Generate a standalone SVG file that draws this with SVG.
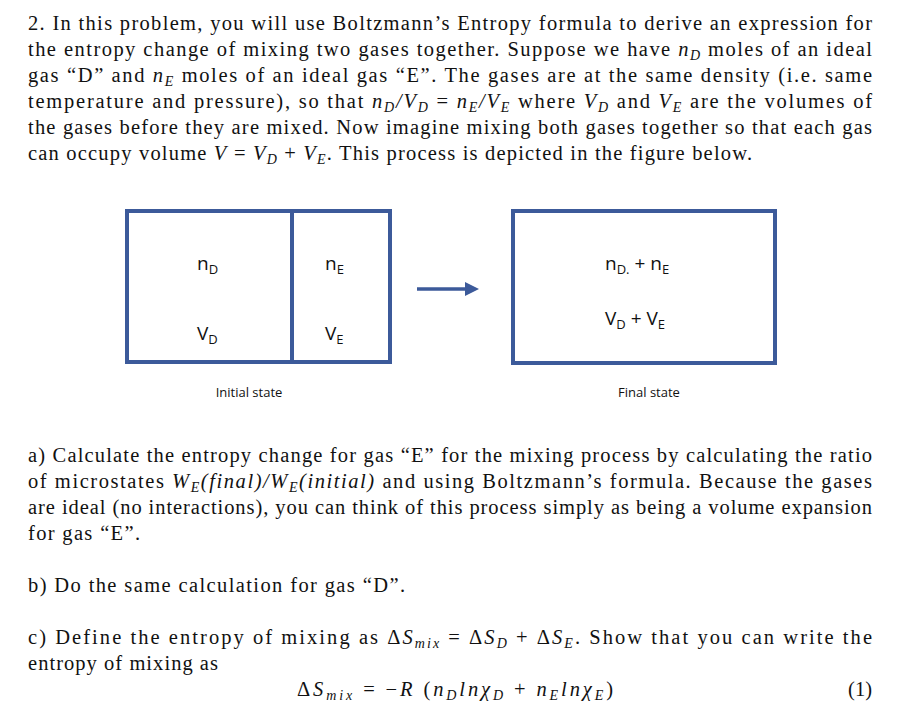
<svg xmlns="http://www.w3.org/2000/svg" width="912" height="722" viewBox="0 0 912 722">
<style>
.t{font-family:"Liberation Serif",serif;font-size:20.5px;fill:#111}
.i{font-style:italic}
.s{font-family:"Open Sans","Liberation Sans",sans-serif;fill:#111}
.box{fill:none;stroke:#3c5a9a;stroke-width:4}
</style>
<defs><marker id="ah" markerWidth="4" markerHeight="4" refX="2" refY="2" orient="auto"><path d="M0,0L4,2L0,4z" fill="#3c5a9a"/></marker></defs>
<rect width="912" height="722" fill="#fff"/>
<text class="t" x="28" y="30" textLength="844" lengthAdjust="spacing">2. In this problem, you will use Boltzmann’s Entropy formula to derive an expression for</text>
<text class="t" x="28" y="56" textLength="844" lengthAdjust="spacing">the entropy change of mixing two gases together. Suppose we have <tspan class="i">n<tspan font-size="14" dy="4">D</tspan></tspan><tspan dy="-4"> moles of an ideal</tspan></text>
<text class="t" x="28" y="82" textLength="844" lengthAdjust="spacing">gas “D” and <tspan class="i">n<tspan font-size="14" dy="4">E</tspan></tspan><tspan dy="-4"> moles of an ideal gas “E”. The gases are at the same density (i.e. same</tspan></text>
<text class="t" x="28" y="108" textLength="844" lengthAdjust="spacing">temperature and pressure), so that <tspan class="i">n<tspan font-size="14" dy="4">D</tspan><tspan dy="-4">/V</tspan><tspan font-size="14" dy="4">D</tspan></tspan><tspan dy="-4"> = </tspan><tspan class="i">n<tspan font-size="14" dy="4">E</tspan><tspan dy="-4">/V</tspan><tspan font-size="14" dy="4">E</tspan></tspan><tspan dy="-4"> where </tspan><tspan class="i">V<tspan font-size="14" dy="4">D</tspan></tspan><tspan dy="-4"> and </tspan><tspan class="i">V<tspan font-size="14" dy="4">E</tspan></tspan><tspan dy="-4"> are the volumes of</tspan></text>
<text class="t" x="28" y="134" textLength="844" lengthAdjust="spacing">the gases before they are mixed. Now imagine mixing both gases together so that each gas</text>
<text class="t" x="28" y="160" textLength="724" lengthAdjust="spacing">can occupy volume <tspan class="i">V</tspan> = <tspan class="i">V<tspan font-size="14" dy="4">D</tspan></tspan><tspan dy="-4"> + </tspan><tspan class="i">V<tspan font-size="14" dy="4">E</tspan></tspan><tspan dy="-4">. This process is depicted in the figure below.</tspan></text>

<g id="initial">
<rect class="box" x="127" y="211" width="263" height="151"/>
<line class="box" x1="292" y1="211" x2="292" y2="362"/>
<text class="s" font-size="19" x="197" y="270">n<tspan font-size="13" dy="4">D</tspan></text>
<text class="s" font-size="19" x="197" y="340">V<tspan font-size="13" dy="4">D</tspan></text>
<text class="s" font-size="19" x="325" y="270">n<tspan font-size="13" dy="4">E</tspan></text>
<text class="s" font-size="19" x="325" y="340">V<tspan font-size="13" dy="4">E</tspan></text>
<text class="s" font-size="13" x="249" y="397" text-anchor="middle">Initial state</text>
</g>
<g id="final">
<rect class="box" x="513" y="211" width="262" height="152"/>
<text class="s" font-size="19" x="605" y="270">n<tspan font-size="13" dy="4">D.</tspan><tspan dy="-4"> + n</tspan><tspan font-size="13" dy="4">E</tspan></text>
<text class="s" font-size="19" x="605" y="325">V<tspan font-size="13" dy="4">D</tspan><tspan dy="-4"> + V</tspan><tspan font-size="13" dy="4">E</tspan></text>
<text class="s" font-size="13" x="649" y="397" text-anchor="middle">Final state</text>
</g>
<g id="connectors">
<line x1="417" y1="289" x2="472" y2="289" stroke="#3c5a9a" stroke-width="3.5" marker-end="url(#ah)"/>
</g>

<text class="t" x="28" y="462" textLength="844" lengthAdjust="spacing">a) Calculate the entropy change for gas “E” for the mixing process by calculating the ratio</text>
<text class="t" x="28" y="488" textLength="844" lengthAdjust="spacing">of microstates <tspan class="i">W<tspan font-size="14" dy="4">E</tspan><tspan dy="-4">(final)/W</tspan><tspan font-size="14" dy="4">E</tspan><tspan dy="-4">(initial)</tspan></tspan> and using Boltzmann’s formula. Because the gases</text>
<text class="t" x="28" y="514" textLength="844" lengthAdjust="spacing">are ideal (no interactions), you can think of this process simply as being a volume expansion</text>
<text class="t" x="28" y="540" textLength="112" lengthAdjust="spacing">for gas “E”.</text>
<text class="t" x="28" y="592" textLength="377" lengthAdjust="spacing">b) Do the same calculation for gas “D”.</text>
<text class="t" x="28" y="644" textLength="844" lengthAdjust="spacing">c) Define the entropy of mixing as Δ<tspan class="i">S<tspan font-size="14" dy="4">mix</tspan></tspan><tspan dy="-4"> = Δ</tspan><tspan class="i">S<tspan font-size="14" dy="4">D</tspan></tspan><tspan dy="-4"> + Δ</tspan><tspan class="i">S<tspan font-size="14" dy="4">E</tspan></tspan><tspan dy="-4">. Show that you can write the</tspan></text>
<text class="t" x="28" y="670" textLength="190" lengthAdjust="spacing">entropy of mixing as</text>
<text class="t" x="297" y="696" textLength="316" lengthAdjust="spacing">Δ<tspan class="i">S<tspan font-size="14" dy="4">mix</tspan></tspan><tspan dy="-4"> = −</tspan><tspan class="i">R</tspan> (<tspan class="i">n<tspan font-size="14" dy="4">D</tspan><tspan dy="-4">lnχ</tspan><tspan font-size="14" dy="4">D</tspan></tspan><tspan dy="-4"> + </tspan><tspan class="i">n<tspan font-size="14" dy="4">E</tspan><tspan dy="-4">lnχ</tspan><tspan font-size="14" dy="4">E</tspan></tspan><tspan dy="-4">)</tspan></text>
<text class="t" x="872" y="696" text-anchor="end">(1)</text>
</svg>
